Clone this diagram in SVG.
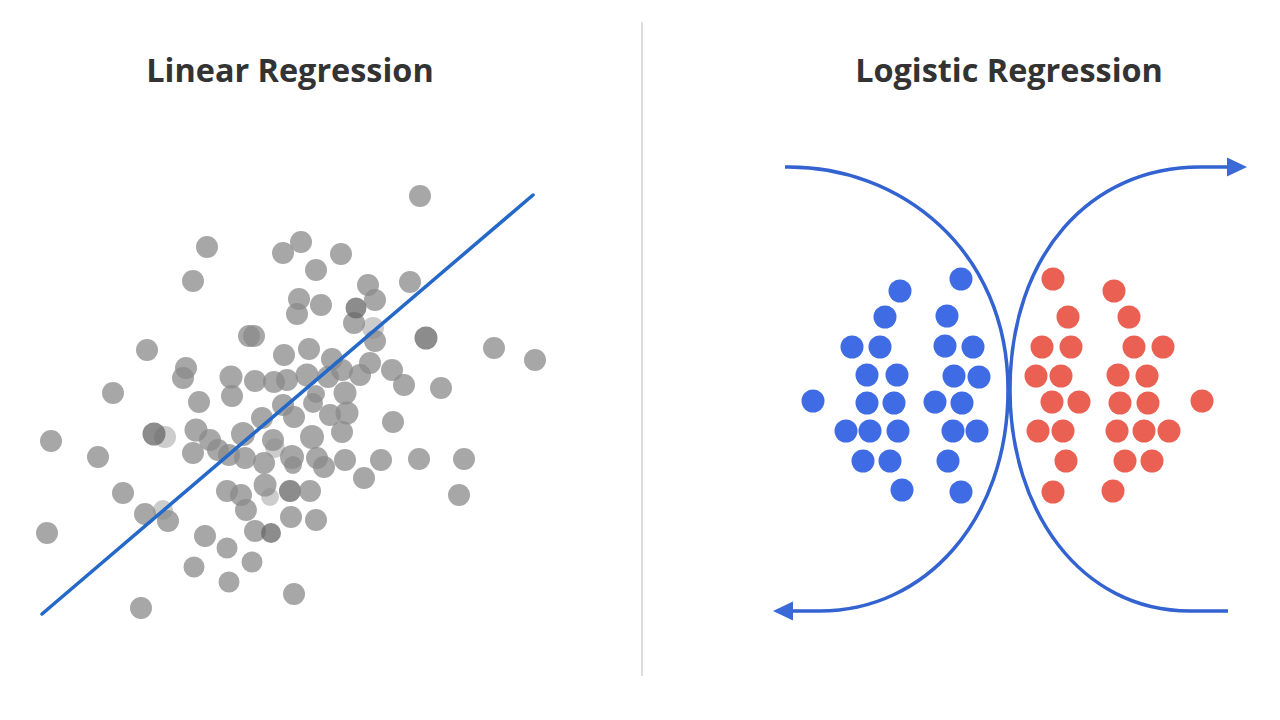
<svg xmlns="http://www.w3.org/2000/svg" width="1280" height="720" viewBox="0 0 1280 720">
<style>
.t{font-family:"Open Sans","Liberation Sans",sans-serif;font-weight:700;font-size:32.4px;fill:#333;text-anchor:middle}
.g circle{fill:#8a8a8a;fill-opacity:.75}
.g circle.d{fill:#666}
.g circle.l{fill:#bbb}
.b circle{fill:#3f6be4}
.r circle{fill:#ea6153}
.c{fill:none;stroke:#3263d0;stroke-width:3.5}
</style>
<defs><marker id="a" markerUnits="userSpaceOnUse" markerWidth="22" markerHeight="22" refX="0" refY="10" orient="auto"><path d="M0 0.5L20 10L0 19.5Z" fill="#3a6ad8"/></marker></defs>
<rect width="1280" height="720" fill="#fff"/>
<g id="divider"><line x1="642" y1="22" x2="642" y2="676" stroke="#ddd" stroke-width="2"/></g>
<g id="title-linear"><text class="t" x="290" y="82">Linear Regression</text></g>
<g id="title-logistic"><text class="t" x="1009" y="82">Logistic Regression</text></g>
<g id="scatter" class="g">
<circle class="l" cx="373" cy="328" r="11"/><circle class="l" cx="163" cy="510" r="10"/><circle class="l" cx="270" cy="497" r="9"/><circle class="l" cx="165" cy="437" r="11"/><circle class="l" cx="275" cy="448" r="10"/>
<circle cx="420" cy="196" r="11"/><circle cx="207" cy="247" r="11"/><circle cx="301" cy="242" r="11"/><circle cx="283" cy="253" r="11"/><circle cx="341" cy="254" r="11"/><circle cx="316" cy="270" r="11"/><circle cx="193" cy="281" r="11"/><circle cx="368" cy="285" r="11"/><circle cx="410" cy="282" r="11"/><circle cx="299" cy="299" r="11"/><circle cx="375" cy="300" r="11"/><circle cx="321" cy="305" r="11"/><circle cx="297" cy="314" r="11"/><circle cx="354" cy="323" r="11"/><circle class="d" cx="356" cy="308" r="10.5"/><circle cx="375" cy="341" r="11"/><circle class="d" cx="426" cy="338" r="11.5"/><circle cx="249" cy="336" r="11"/><circle cx="254" cy="336" r="11"/><circle cx="147" cy="350" r="11"/><circle cx="284" cy="355" r="11"/><circle cx="309" cy="349" r="11"/><circle cx="186" cy="368" r="11"/><circle cx="183" cy="378" r="11"/><circle cx="231" cy="377" r="11.5"/><circle cx="255" cy="381" r="11"/><circle cx="274" cy="382" r="11"/><circle cx="287" cy="380" r="11"/><circle cx="307" cy="375" r="11.5"/><circle cx="328" cy="377" r="11"/><circle cx="332" cy="359" r="11"/><circle cx="342" cy="370" r="11"/><circle cx="360" cy="375" r="11"/><circle cx="370" cy="363" r="11"/><circle cx="392" cy="370" r="11"/><circle cx="404" cy="385" r="11"/><circle cx="441" cy="388" r="11"/><circle cx="494" cy="348" r="11"/><circle cx="535" cy="360" r="11"/><circle cx="113" cy="393" r="11"/><circle cx="232" cy="396" r="11"/><circle cx="199" cy="402" r="11"/><circle cx="283" cy="405" r="11"/><circle cx="316" cy="394" r="9"/><circle cx="313" cy="403" r="10"/><circle cx="345" cy="393" r="11.5"/><circle cx="347" cy="413" r="11.5"/><circle cx="330" cy="415" r="11"/><circle cx="393" cy="422" r="11"/><circle cx="51" cy="441" r="11"/><circle class="d" cx="154" cy="434" r="11.5"/><circle cx="196" cy="430" r="11.5"/><circle cx="193" cy="453" r="11"/><circle cx="210" cy="440" r="11"/><circle cx="218" cy="450" r="11"/><circle cx="243" cy="434" r="12"/><circle cx="229" cy="455" r="11"/><circle cx="262" cy="418" r="11"/><circle cx="294" cy="417" r="11"/><circle cx="312" cy="437" r="12"/><circle cx="342" cy="432" r="11"/><circle cx="273" cy="440" r="11"/><circle cx="98" cy="457" r="11"/><circle cx="245" cy="458" r="11"/><circle cx="264" cy="463" r="11"/><circle cx="292" cy="457" r="12"/><circle cx="293" cy="465" r="9"/><circle cx="317" cy="458" r="11"/><circle cx="324" cy="467" r="11"/><circle cx="345" cy="460" r="11"/><circle cx="381" cy="460" r="11"/><circle cx="419" cy="459" r="11"/><circle cx="464" cy="459" r="11"/><circle cx="364" cy="478" r="11"/><circle cx="459" cy="495" r="11"/><circle cx="123" cy="493" r="11"/><circle cx="227" cy="491" r="11"/><circle cx="241" cy="495" r="11"/><circle cx="265" cy="485" r="11.5"/><circle class="d" cx="290" cy="491" r="11"/><circle cx="310" cy="491" r="11"/><circle cx="145" cy="514" r="11"/><circle cx="168" cy="521" r="11"/><circle cx="246" cy="510" r="11"/><circle cx="291" cy="517" r="11"/><circle cx="316" cy="520" r="11"/><circle cx="255" cy="531" r="11"/><circle class="d" cx="271" cy="533" r="10"/><circle cx="47" cy="533" r="11"/><circle cx="205" cy="536" r="11"/><circle cx="227" cy="548" r="10.5"/><circle cx="252" cy="562" r="10.5"/><circle cx="194" cy="567" r="10.5"/><circle cx="229" cy="582" r="10.5"/><circle cx="294" cy="594" r="11"/><circle cx="141" cy="608" r="11"/>
</g>
<g id="blue-dots" class="b">
<circle cx="900" cy="291" r="11.5"/><circle cx="961" cy="279" r="11.5"/><circle cx="885" cy="317" r="11.5"/><circle cx="947" cy="316" r="11.5"/><circle cx="852" cy="347" r="11.5"/><circle cx="880" cy="347" r="11.5"/><circle cx="945" cy="346" r="11.5"/><circle cx="973" cy="347" r="11.5"/><circle cx="867" cy="375" r="11.5"/><circle cx="897" cy="375" r="11.5"/><circle cx="954" cy="376" r="11.5"/><circle cx="979" cy="377" r="11.5"/><circle cx="813" cy="401" r="11.5"/><circle cx="867" cy="403" r="11.5"/><circle cx="894" cy="403" r="11.5"/><circle cx="935" cy="402" r="11.5"/><circle cx="962" cy="403" r="11.5"/><circle cx="846" cy="431" r="11.5"/><circle cx="870" cy="431" r="11.5"/><circle cx="898" cy="431" r="11.5"/><circle cx="953" cy="431" r="11.5"/><circle cx="977" cy="431" r="11.5"/><circle cx="863" cy="461" r="11.5"/><circle cx="890" cy="461" r="11.5"/><circle cx="948" cy="461" r="11.5"/><circle cx="902" cy="490" r="11.5"/><circle cx="961" cy="492" r="11.5"/>
</g>
<g id="red-dots" class="r">
<circle cx="1053" cy="279" r="11.5"/><circle cx="1114" cy="291" r="11.5"/><circle cx="1068" cy="317" r="11.5"/><circle cx="1129" cy="317" r="11.5"/><circle cx="1042" cy="347" r="11.5"/><circle cx="1071" cy="347" r="11.5"/><circle cx="1134" cy="347" r="11.5"/><circle cx="1163" cy="347" r="11.5"/><circle cx="1036" cy="376" r="11.5"/><circle cx="1061" cy="376" r="11.5"/><circle cx="1118" cy="375" r="11.5"/><circle cx="1147" cy="376" r="11.5"/><circle cx="1052" cy="402" r="11.5"/><circle cx="1079" cy="402" r="11.5"/><circle cx="1120" cy="403" r="11.5"/><circle cx="1148" cy="403" r="11.5"/><circle cx="1202" cy="401" r="11.5"/><circle cx="1038" cy="431" r="11.5"/><circle cx="1063" cy="431" r="11.5"/><circle cx="1117" cy="431" r="11.5"/><circle cx="1144" cy="431" r="11.5"/><circle cx="1169" cy="431" r="11.5"/><circle cx="1066" cy="461" r="11.5"/><circle cx="1125" cy="461" r="11.5"/><circle cx="1152" cy="461" r="11.5"/><circle cx="1053" cy="492" r="11.5"/><circle cx="1113" cy="491" r="11.5"/>
</g>
<g id="connectors">
<line x1="42" y1="614" x2="533" y2="195" stroke="#2468c8" stroke-width="3.5" stroke-linecap="round"/>
<path class="c" d="M785 167C900 165 1008 250 1008 390"/>
<path class="c" marker-end="url(#a)" d="M1008 390C1008 520 925 611 820 611H793"/>
<path class="c" d="M1228 611H1190C1080 611 1010 510 1010 390"/>
<path class="c" marker-end="url(#a)" d="M1010 390C1010 255 1090 167 1200 167H1227"/>
</g>
</svg>
